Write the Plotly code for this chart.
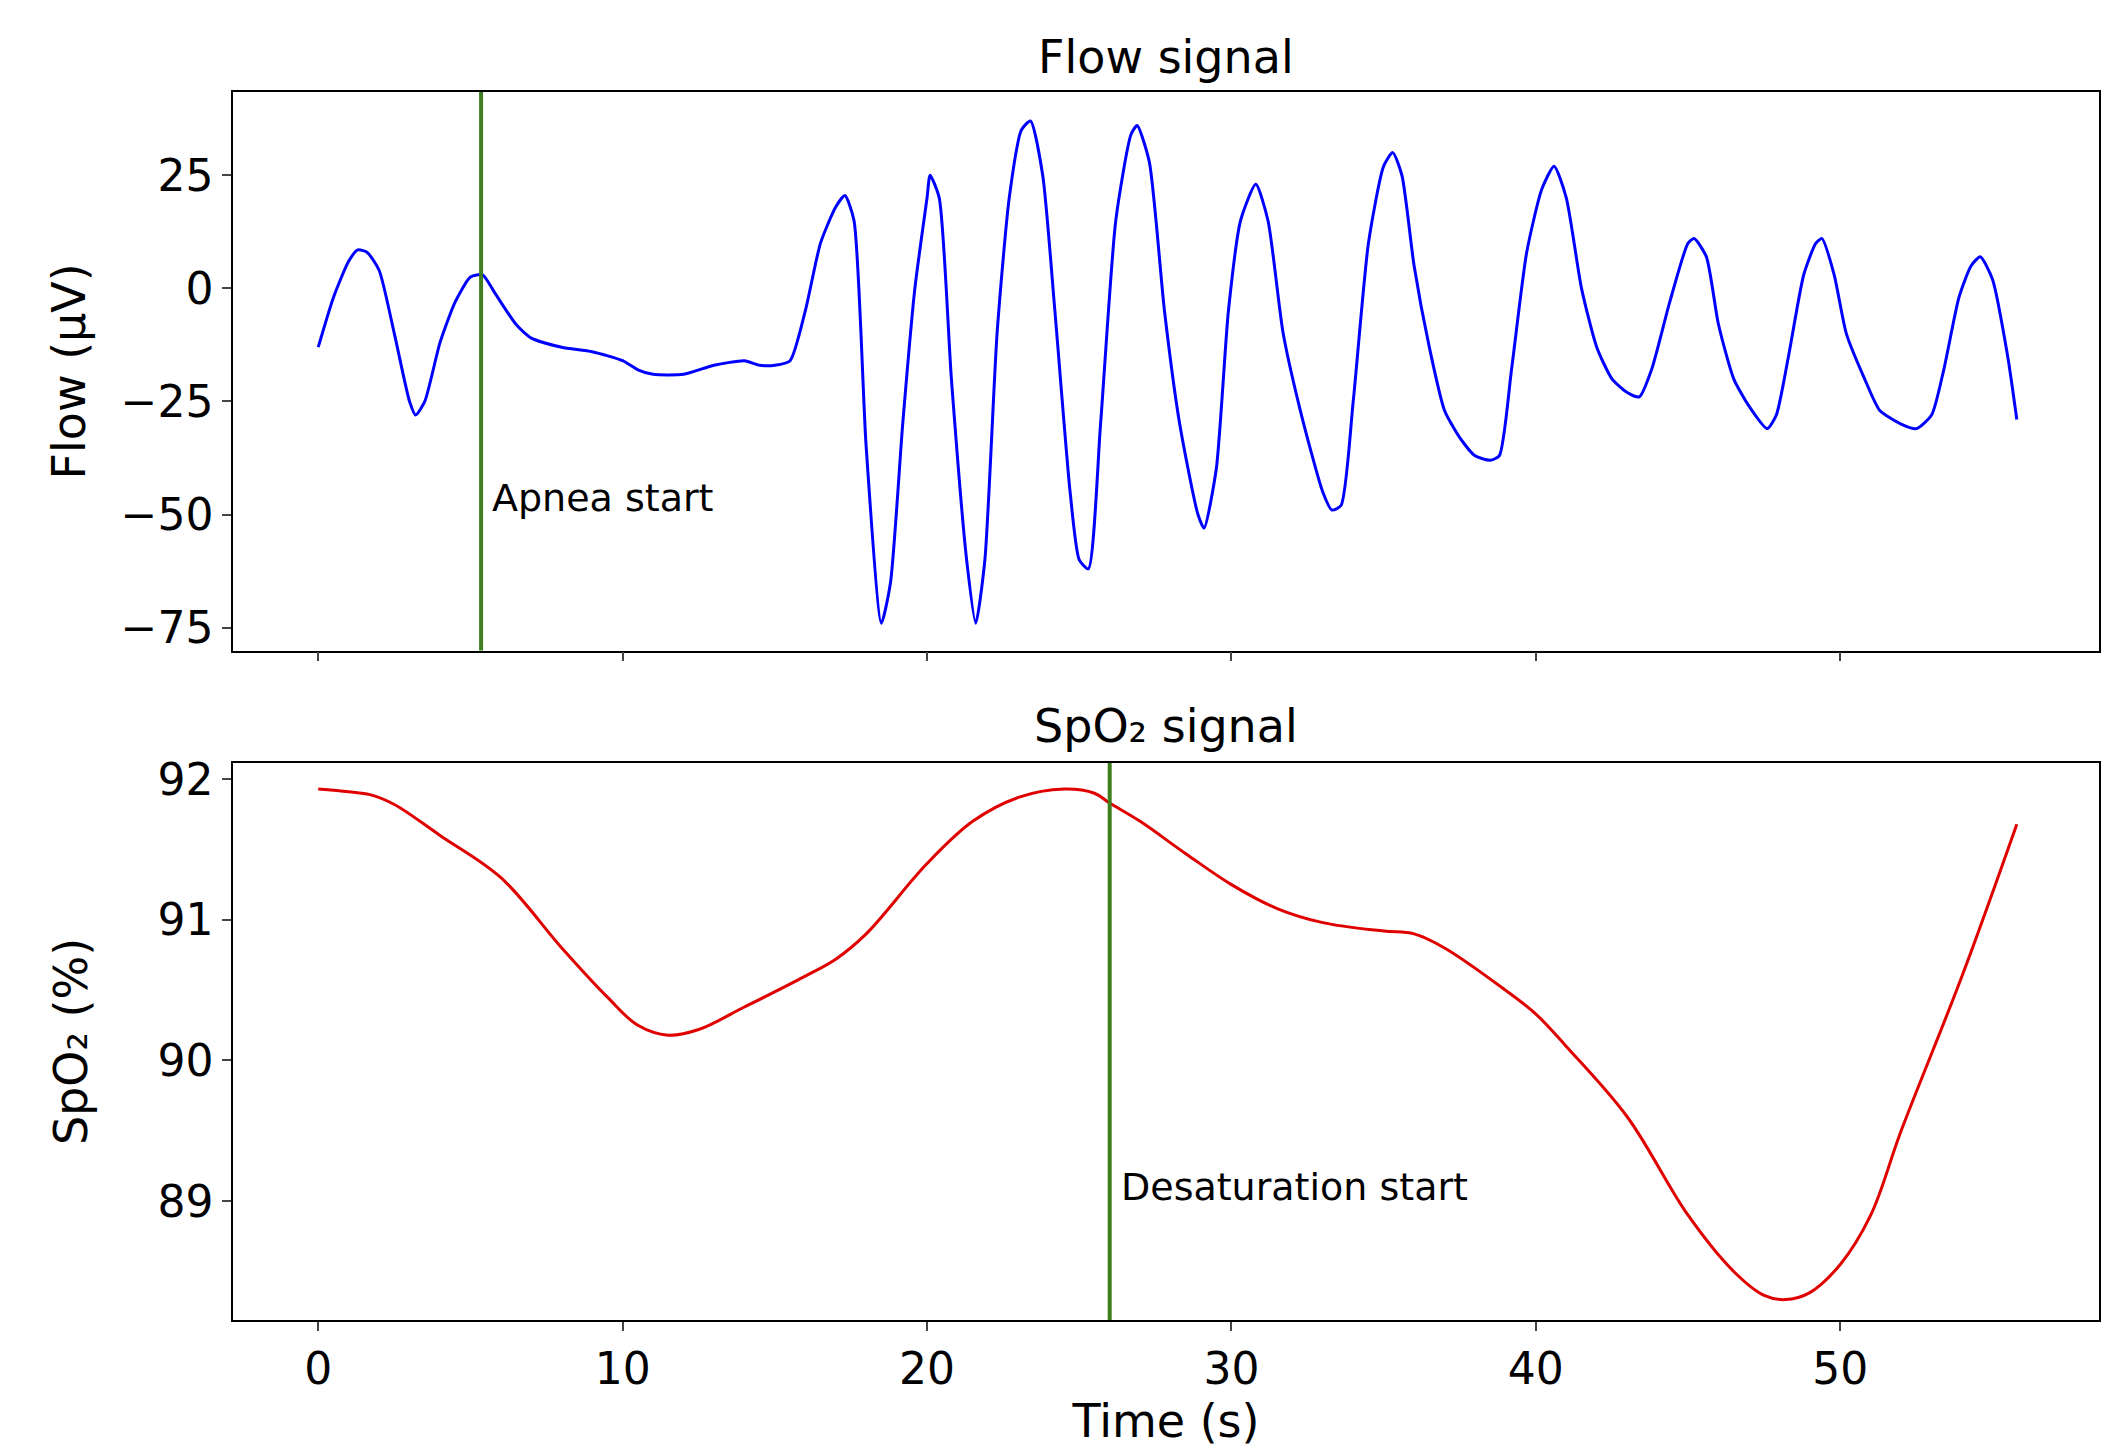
import plotly.graph_objects as go
from plotly.subplots import make_subplots

flow_t = [0,0.5,1,1.3,1.6,2,2.5,3,3.2,3.5,4,4.5,5,5.4,5.8,6.5,7,8,9,10,10.5,11,12,13,14,14.5,15,15.5,16,16.5,17,17.3,17.6,18,18.5,18.8,19.2,19.6,20,20.1,20.4,20.8,21.3,21.6,21.9,22.3,22.7,23.1,23.4,23.8,24.2,24.7,25,25.3,25.7,26.2,26.7,26.9,27.3,27.8,28.3,28.9,29.1,29.5,29.9,30.3,30.8,31.2,31.7,32.3,33,33.3,33.6,34,34.5,35,35.3,35.6,36,36.5,37,37.5,38,38.5,38.8,39.2,39.7,40.2,40.6,41,41.5,42,42.5,43,43.4,43.8,44.4,45,45.2,45.6,46,46.5,47,47.6,47.9,48.3,48.8,49.2,49.4,49.8,50.2,50.8,51.3,52,52.5,53,53.4,53.9,54.3,54.6,55,55.5,55.8]
flow_v = [-13,-2,6,8.5,8,4,-10,-25,-28,-25,-12,-3,2.5,3,-1,-8,-11,-13,-14,-16,-18,-19,-19,-17,-16,-17,-17,-16,-5,10,18,20.5,15,-35,-74,-65,-30,0,20,25,20,-20,-60,-74,-60,-10,20,35,37,25,-5,-45,-60,-62,-30,15,34,36,28,-5,-30,-50,-53,-40,-5,15,23,15,-10,-28,-45,-49,-48,-25,10,27,30,25,5,-13,-27,-33,-37,-38,-37,-18,8,22,27,20,0,-13,-20,-23,-24,-18,-3,10,11,7,-8,-20,-26,-31,-28,-15,3,10,11,3,-10,-20,-27,-30,-31,-28,-18,-2,5,7,2,-15,-29]

spo2_t = [0,1,1.7,2.5,4,6,8,9.5,10.5,11.5,12.5,14,16,17,18,20,21.5,23,24.5,25.5,26,27,28.5,30,31.5,33,35,36,37,39,40,41,43,45,46.5,47.5,48.2,49,50,51,52,54,55.8]
spo2_v = [91.93,91.91,91.89,91.82,91.6,91.3,90.8,90.45,90.25,90.18,90.22,90.38,90.6,90.72,90.9,91.4,91.7,91.87,91.93,91.9,91.83,91.7,91.47,91.25,91.08,90.98,90.92,90.9,90.8,90.5,90.33,90.1,89.6,88.9,88.5,88.33,88.3,88.35,88.55,88.9,89.5,90.6,91.68]

apnea_t = 5.35
desat_t = 26.0
green = "#3f7f1f"
font = "DejaVu Sans"

fig = make_subplots(rows=2, cols=1, shared_xaxes=True, vertical_spacing=0.09,
                    subplot_titles=["Flow signal", "SpO₂ signal"])
fig.add_trace(go.Scatter(x=flow_t, y=flow_v, mode="lines", line=dict(color="blue", width=3, shape="spline", smoothing=0.6)), 1, 1)
fig.add_trace(go.Scatter(x=spo2_t, y=spo2_v, mode="lines", line=dict(color="#e00000", width=3, shape="spline")), 2, 1)
fig.add_trace(go.Scatter(x=[apnea_t, apnea_t], y=[-80.1, 43.4], mode="lines", line=dict(color=green, width=4)), 1, 1)
fig.add_trace(go.Scatter(x=[desat_t, desat_t], y=[88.155, 92.115], mode="lines", line=dict(color=green, width=4)), 2, 1)
fig.add_annotation(x=apnea_t+0.3, y=-46.4, text="Apnea start", showarrow=False, xanchor="left", xref="x", yref="y", font=dict(size=38, family=font, color="black"))
fig.add_annotation(x=desat_t+0.3, y=89.1, text="Desaturation start", showarrow=False, xanchor="left", xref="x2", yref="y2", font=dict(size=38, family=font, color="black"))

ax = dict(showline=True, mirror=True, linecolor="black", linewidth=1.5, ticks="outside", ticklen=9, tickwidth=1.5, showgrid=False, zeroline=False, tickfont=dict(size=44, family=font, color="black"))
fig.update_xaxes(**ax, range=[-2.8, 58.5], dtick=10)
fig.update_xaxes(showticklabels=False, row=1, col=1)
fig.update_xaxes(title=dict(text="Time (s)", font=dict(size=46, family=font, color="black"), standoff=8), row=2, col=1)
fig.update_yaxes(**ax)
fig.update_yaxes(range=[-80.1, 43.4], tickvals=[-75,-50,-25,0,25], ticktext=["−75","−50","−25","0","25"], title=dict(text="Flow (µV)", font=dict(size=46, family=font, color="black"), standoff=20), row=1, col=1)
fig.update_yaxes(range=[88.155, 92.115], tickvals=[89,90,91,92], title=dict(text="SpO₂ (%)", font=dict(size=46, family=font, color="black"), standoff=55), row=2, col=1)
fig.update_yaxes(domain=[0.545, 1], row=1, col=1)
fig.update_yaxes(domain=[0, 0.4536], row=2, col=1)
for a in fig.layout.annotations[:2]:
    a.font = dict(size=46, family=font, color="black")
    a.yshift = 6
fig.update_layout(width=2118, height=1456, showlegend=False, plot_bgcolor="white", paper_bgcolor="white",
                  margin=dict(l=225, r=27, t=84, b=144))
fig.write_html("out.html")
